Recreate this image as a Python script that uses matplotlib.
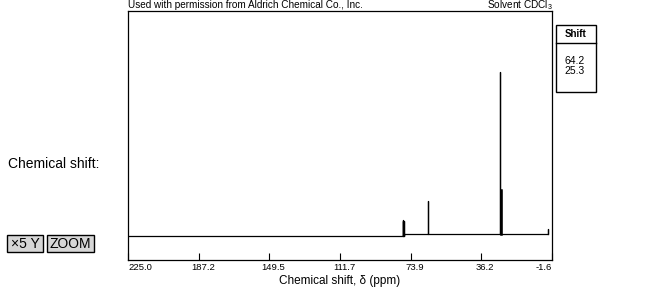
import matplotlib
matplotlib.use('Agg')
import matplotlib.pyplot as plt
from matplotlib.patches import Rectangle
from matplotlib.transforms import ScaledTranslation

plt.rcParams['font.family'] = ['Liberation Sans', 'DejaVu Sans']
plt.rcParams['mathtext.fontset'] = 'custom'
plt.rcParams['mathtext.rm'] = 'Liberation Sans'

# spectrum data (ppm as drawn, relative intensity)
peak_ppm = [78.2, 77.8, 77.4, 64.9, 26.0, 25.8, 0.6]
peak_int = [15, 16, 15, 33, 162, 44, 5]
base_break = 77.3          # baseline shifts a little after the solvent lines
base_levels = [0, 2]
ppm_start, ppm_end = 225.0, 0.4

tick_vals = [225.0, 187.2, 149.5, 111.7, 73.9, 36.2, -1.6]
tick_labels = ['225.0', '187.2', '149.5', '111.7', '73.9', '36.2', '-1.6']
shift_list = ['64.2', '25.3']

# build the trace
xs, ys = [ppm_start], [base_levels[0]]
for p, h in sorted(zip(peak_ppm, peak_int), key=lambda t: -t[0]):
    b = base_levels[0] if p > base_break else base_levels[1]
    if xs[-1] > base_break >= p and ys[-1] == base_levels[0]:
        xs += [base_break, base_break]
        ys += [base_levels[0], base_levels[1]]
    xs += [p, p, p]
    ys += [b, b + h, b]
xs.append(ppm_end)
ys.append(base_levels[1])

fig = plt.figure(figsize=(6.47, 3.01), dpi=100)
ax = fig.add_axes([128/647, 41/301, 424/647, 249/301])
ax.plot(xs, ys, color='black', lw=0.9)
# second line under the big peak looks heavier
ax.plot([peak_ppm[5]] * 2, [base_levels[1], base_levels[1] + peak_int[5]], color='black', lw=1.8)
ax.set_xlim(225.0, -1.6)
ax.set_ylim(-24, 225)
ax.set_yticks([])
ax.set_xticks(tick_vals)
ax.set_xticklabels(tick_labels, fontsize=6.8)
ax.tick_params(axis='x', direction='in', length=5, width=0.8, pad=2)
for s in ax.spines.values():
    s.set_linewidth(0.9)
lbls = ax.get_xticklabels()
lbls[0].set_ha('left')
lbls[-1].set_ha('right')
for l in lbls[1:-1]:
    l.set_transform(l.get_transform() + ScaledTranslation(4/100, 0, fig.dpi_scale_trans))
ax.set_xlabel('Chemical shift, δ (ppm)', fontsize=8.5, labelpad=2)

fig.text(128/647, 1 - 8.5/301, 'Used with permission from Aldrich Chemical Co., Inc.',
         fontsize=7.2, va='baseline', ha='left')
fig.text(553/647, 1 - 8.5/301, r'Solvent CDCl$_\mathregular{3}$',
         fontsize=7.2, va='baseline', ha='right')

# shift table box
bx0, bx1, by0, by1 = 556, 596, 25, 92
fig.patches.append(Rectangle((bx0/647, 1 - by1/301), (bx1-bx0)/647, (by1-by0)/301,
                             transform=fig.transFigure, fill=False, lw=1, ec='black'))
fig.add_artist(plt.Line2D([bx0/647, bx1/647], [1 - 43/301, 1 - 43/301],
                          transform=fig.transFigure, color='black', lw=1))
cx = (bx0 + bx1) / 2 / 647
fig.text(cx, 1 - 34/301, 'Shift', fontsize=7, weight='bold', ha='center', va='center')
for i, s in enumerate(shift_list):
    fig.text(585/647, 1 - (61 + i*10)/301, s, fontsize=7.5, ha='right', va='center')

fig.text(8/647, 1 - 164/301, 'Chemical shift:', fontsize=10, ha='left', va='center')

# buttons
for (x0, x1), t in zip([(7, 43), (47, 94)], ['×5 Y', 'ZOOM']):
    fig.patches.append(Rectangle((x0/647, 1 - 252/301), (x1-x0)/647, 17/301,
                                 transform=fig.transFigure, fc='#d6d6d6', ec='black', lw=1))
    fig.text((x0 + x1)/2/647, 1 - 244/301, t, fontsize=10, ha='center', va='center')

fig.savefig('out.png', dpi=100)
